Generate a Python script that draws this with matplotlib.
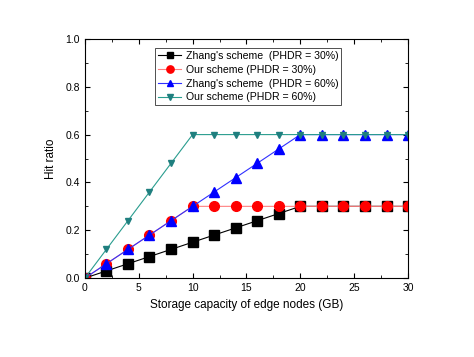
import matplotlib
matplotlib.use('Agg')
import matplotlib.pyplot as plt
from matplotlib.ticker import MultipleLocator

# storage capacity (GB)
capacity = [0, 2, 4, 6, 8, 10, 12, 14, 16, 18, 20, 22, 24, 26, 28, 30]

zhang_30 = [0, 0.03, 0.06, 0.09, 0.12, 0.15, 0.18, 0.21, 0.24, 0.27, 0.30, 0.30, 0.30, 0.30, 0.30, 0.30]
ours_30 = [0, 0.06, 0.12, 0.18, 0.24, 0.30, 0.30, 0.30, 0.30, 0.30, 0.30, 0.30, 0.30, 0.30, 0.30, 0.30]
zhang_60 = [0, 0.06, 0.12, 0.18, 0.24, 0.30, 0.36, 0.42, 0.48, 0.54, 0.60, 0.60, 0.60, 0.60, 0.60, 0.60]
ours_60 = [0, 0.12, 0.24, 0.36, 0.48, 0.60, 0.60, 0.60, 0.60, 0.60, 0.60, 0.60, 0.60, 0.60, 0.60, 0.60]

labels = ["Zhang's scheme  (PHDR = 30%)", "Our scheme (PHDR = 30%)",
          "Zhang's scheme  (PHDR = 60%)", "Our scheme (PHDR = 60%)"]

plt.rcParams['font.family'] = ['Liberation Sans', 'DejaVu Sans']

fig = plt.figure(figsize=(4.74, 3.57), dpi=100)
ax = fig.add_axes([0.179, 0.221, 0.682, 0.670])

ax.plot(capacity, zhang_30, color='black', lw=0.8, marker='s', ms=6.5, label=labels[0])
ax.plot(capacity, ours_30, color='#ff8080', lw=0.8, marker='o', ms=7,
        mfc='red', mec='red', label=labels[1])
ax.plot(capacity, zhang_60, color='#3030ff', lw=0.8, marker='^', ms=6.5,
        mfc='blue', mec='blue', label=labels[2])
ax.plot(capacity, ours_60, color='#2a9d8f', lw=0.8, marker='v', ms=5,
        mfc='#1f7f7f', mec='#1f7f7f', label=labels[3])

ax.set_xlim(0, 30)
ax.set_ylim(0, 1.0)
ax.xaxis.set_major_locator(MultipleLocator(5))
ax.xaxis.set_minor_locator(MultipleLocator(2.5))
ax.yaxis.set_major_locator(MultipleLocator(0.2))
ax.yaxis.set_minor_locator(MultipleLocator(0.1))
ax.yaxis.set_major_formatter(plt.FormatStrFormatter('%.1f'))
ax.tick_params(which='both', direction='in', top=True, right=True, labelsize=7.5)
ax.tick_params(which='major', length=3.5)
ax.tick_params(which='minor', length=2)

ax.set_xlabel('Storage capacity of edge nodes (GB)', fontsize=8.5, labelpad=4)
ax.set_ylabel('Hit ratio', fontsize=8.5, labelpad=6)

leg = ax.legend(loc='upper left', bbox_to_anchor=(0.217, 0.962), borderaxespad=0,
                fontsize=7.6, markerscale=0.75,
                frameon=True, fancybox=False, edgecolor='black',
                handlelength=2.2, borderpad=0.3, labelspacing=0.35, handletextpad=0.4)
leg.get_frame().set_linewidth(0.6)

plt.savefig('out.png', dpi=100)
